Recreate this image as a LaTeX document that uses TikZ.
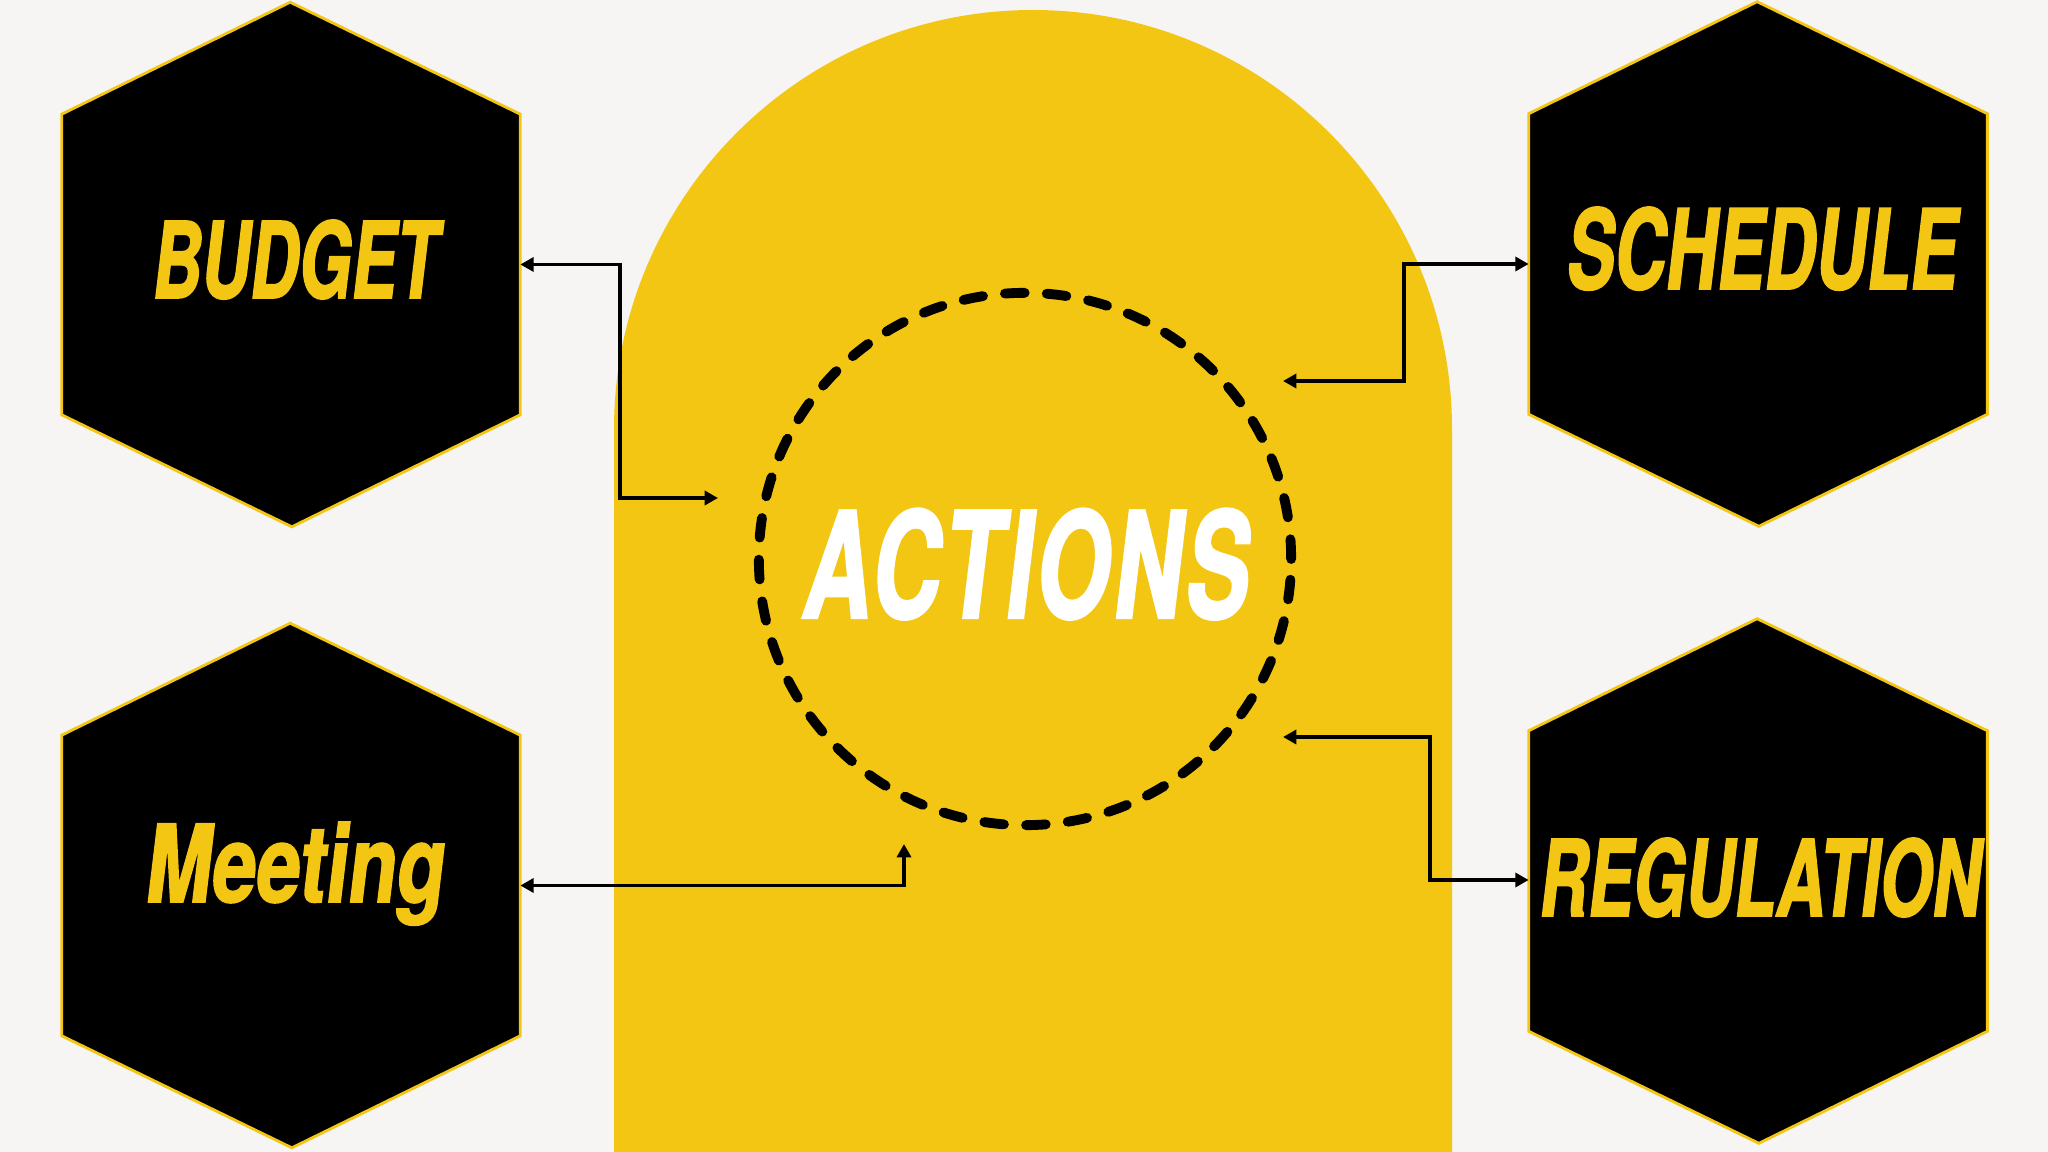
\documentclass[tikz,border=0pt]{standalone}
\usepackage{fontspec}
\usetikzlibrary{arrows.meta}
\newfontfamily\capsfont[FakeStretch=0.64,FakeSlant=0.12,FakeBold=1.6]{TeX Gyre Heros}
\newfontfamily\lowfont[FakeStretch=0.74,FakeSlant=0.12,FakeBold=1.6]{TeX Gyre Heros}
\newfontfamily\bigfont[FakeStretch=0.64,FakeSlant=0.12,FakeBold=1.6,LetterSpace=2.7]{TeX Gyre Heros}
\definecolor{bgpaper}{HTML}{F6F5F3}
\definecolor{archyellow}{HTML}{F3C613}
\tikzset{
	hexbox/.style={rectangle, minimum width=4.57cm, minimum height=2.99cm, inner sep=0pt},
	hexfill/.style={fill=black, draw=archyellow, line width=0.8pt, line join=miter},
	hexlabel/.style={anchor=base, text=archyellow, font=\capsfont\bfseries\fontsize{30}{30}\selectfont},
	link/.style={line width=1.1pt, {Triangle[length=3.8pt,width=4pt]}-{Triangle[length=3.8pt,width=4pt]}},
}
\begin{document}
\begin{tikzpicture}[x=0.01cm,y=-0.01cm]
					\useasboundingbox (0,0) rectangle (2048,1152);
					\fill[bgpaper] (0,0) rectangle (2048,1152);
					% yellow arch behind the middle
					\fill[archyellow] (614,1152) -- (614,429) arc[start angle=180, end angle=360, radius=419] -- (1452,1152) -- cycle;
					\node[hexbox] (budget) at (291,264.5) {};
					\node[hexbox] (schedule) at (1758,264) {};
					\node[hexbox] (meeting) at (291,885.5) {};
					\node[hexbox] (regulation) at (1758,881) {};
					% hexagons, pointed top and bottom
					\foreach \n in {budget,schedule,meeting,regulation}
						\filldraw[hexfill] (\n.north west) -- ++(228.5,-112) -- (\n.north east) -- (\n.south east) -- ++(-228.5,112) -- (\n.south west) -- cycle;
					\node[hexlabel] (budgettext) at (293,298) {BUDGET};
					\node[hexlabel, font=\capsfont\bfseries\fontsize{31.5}{31.5}\selectfont] (scheduletext) at (1760,289) {SCHEDULE};
					\node[hexlabel, font=\lowfont\bfseries\fontsize{30.5}{30.5}\selectfont] (meetingtext) at (293,902) {Meeting};
					\node[hexlabel] (regulationtext) at (1758,916) {REGULATION};
					\node[circle, minimum size=5.32cm, draw=black, line width=2.8pt, line cap=round, dash pattern=on 5.6pt off 6.3pt] (actions) at (1025,559) {};
					\node[anchor=base, text=white, font=\bigfont\bfseries\fontsize{42}{42}\selectfont] (actionstext) at (1023,618) {ACTIONS};
					% free ends near the circle
					\coordinate (budgetend) at (718,498);
					\coordinate (scheduleend) at (1283,381);
					\coordinate (regulationend) at (1283,737);
					\coordinate (meetingend) at (904,844);
					\draw[link] (budget.east) -- (620,264.5) |- (budgetend);
					\draw[link] (scheduleend) -| (1404,264) -- (schedule.west);
					\draw[link] (regulationend) -| (1430,880) -- (regulation.west |- 0,880);
					\draw[link] (meeting.east) -| (meetingend);
				\end{tikzpicture}
\end{document}
